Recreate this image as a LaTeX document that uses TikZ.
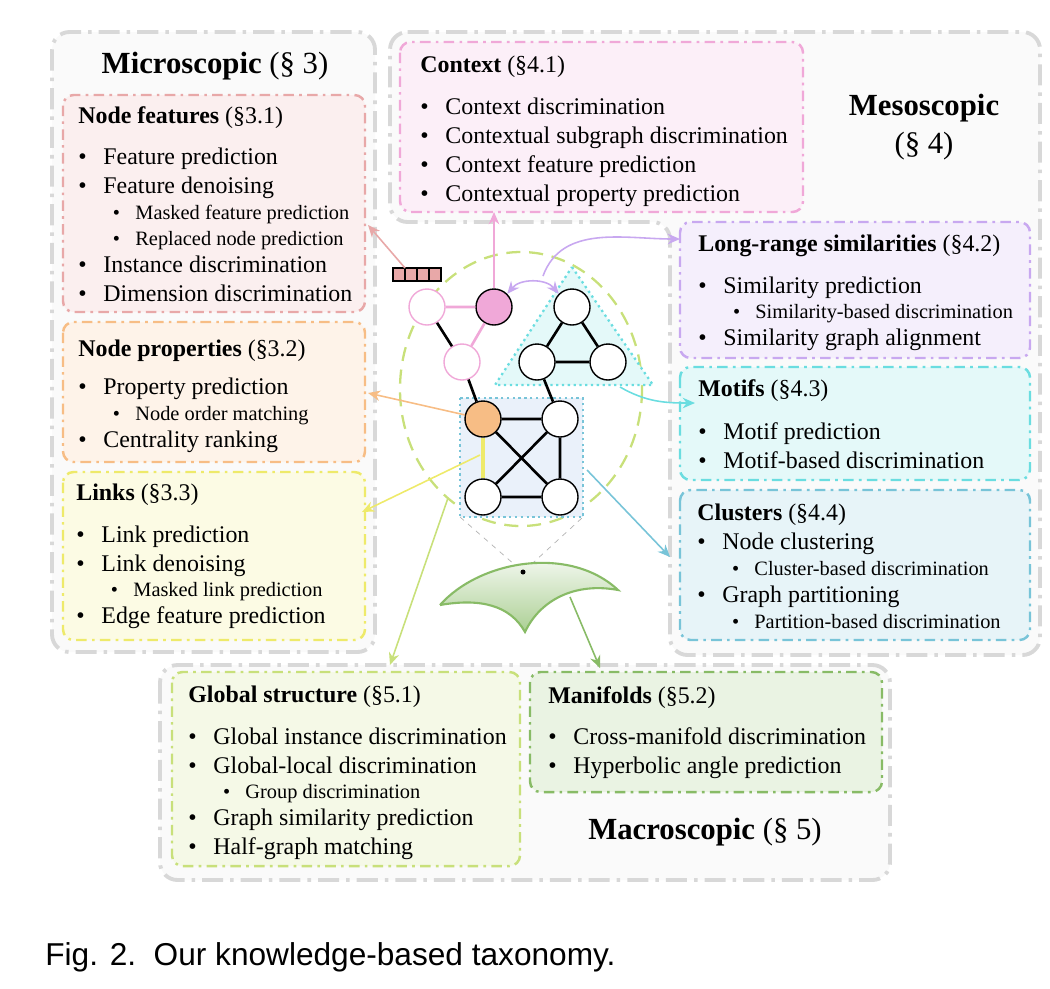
\documentclass[tikz,border=0pt]{standalone}
\usepackage{fontspec}
\setmainfont{Liberation Serif}
\newfontfamily\capfont{Liberation Sans}
\usetikzlibrary{arrows.meta,positioning}
\definecolor{outerc}{HTML}{D8D8D8}
\definecolor{nfc}{HTML}{E8A8A8}
\definecolor{npc}{HTML}{F7BD85}
\definecolor{lkc}{HTML}{EEEA6A}
\definecolor{ctc}{HTML}{F0A8D8}
\definecolor{lrc}{HTML}{C8A8F0}
\definecolor{mfc}{HTML}{6ADDE0}
\definecolor{clc}{HTML}{78C4D8}
\definecolor{glc}{HTML}{C8E07A}
\definecolor{mnc}{HTML}{88BB66}
\definecolor{sqfill}{HTML}{EAF1FA}
\newcommand\ib[1]{\makebox[1.05em][l]{\textbullet}#1}
\newcommand\sib[1]{\hspace*{1.45em}{\fontsize{11.6}{14}\selectfont\makebox[1.1em][l]{\textbullet}#1}}
\tikzset{
  outer/.style={draw=outerc, fill=black!2, line width=2.2pt, rounded corners=10pt,
    dash pattern=on 12pt off 4pt on 2pt off 4pt},
  box/.style={draw=#1, fill=#1!18, line width=1.4pt, rounded corners=6pt,
    dash pattern=on 6pt off 3pt on 1.5pt off 3pt},
  txt/.style={anchor=north west, inner sep=0pt, align=left,
    font=\fontsize{13.6}{16.5}\selectfont},
  gnode/.style={circle, draw, thick, fill=white, minimum size=36*0.02cm, inner sep=0pt},
  conn/.style={-{Stealth[length=7pt,width=6pt]}, line width=0.9pt},
}
\begin{document}
\begin{tikzpicture}[x=0.02cm, y=-0.02cm]
\useasboundingbox (0,0) rectangle (1050,988);
% outer regions
\draw[outer] (52,32) rectangle (375,652);
\draw[outer] (390,32) -- (1040,32) -- (1040,655) -- (670,655) -- (670,222) -- (390,222) -- cycle;
\draw[outer] (160,665) rectangle (890,880);
\node[font=\fontsize{17.5}{20}\selectfont] (micro) at (215,66) {\textbf{Microscopic} (§ 3)};
\node[font=\fontsize{17.5}{22}\selectfont, align=center] (meso) at (924,127) {\textbf{Mesoscopic}\\(§ 4)};
\node[font=\fontsize{17.5}{20}\selectfont] (macro) at (705,832) {\textbf{Macroscopic} (§ 5)};
% boxes
\draw[box=nfc] (63,95) rectangle (365,312);
\draw[box=npc] (63,322) rectangle (365,462);
\draw[box=lkc] (63,472) rectangle (365,640);
\draw[box=ctc] (400,42) rectangle (803,212);
\draw[box=lrc] (680,222) rectangle (1030,358);
\draw[box=mfc] (680,367) rectangle (1030,480);
\draw[box=clc] (680,490) rectangle (1030,640);
\draw[box=glc] (172,672) rectangle (520,866);
\draw[box=mnc] (530,672) rectangle (882,792);
% box texts
\node[txt] (nft) at (78,106) {\textbf{Node features} (§3.1)\\[7pt]
  \ib{Feature prediction}\\ \ib{Feature denoising}\\[-1.5pt] \sib{Masked feature prediction}\\[-2pt]
  \sib{Replaced node prediction}\\[-1pt] \ib{Instance discrimination}\\ \ib{Dimension discrimination}};
\node[txt] (npt) at (78,340) {\textbf{Node properties} (§3.2)\\[5pt]
  \ib{Property prediction}\\[-2pt] \sib{Node order matching}\\[-1pt] \ib{Centrality ranking}};
\node[txt] (lkt) at (76,484) {\textbf{Links} (§3.3)\\[7pt]
  \ib{Link prediction}\\ \ib{Link denoising}\\[-2pt] \sib{Masked link prediction}\\[-1pt] \ib{Edge feature prediction}};
\node[txt] (ctt) at (420,56) {\textbf{Context} (§4.1)\\[7pt]
  \ib{Context discrimination}\\ \ib{Contextual subgraph discrimination}\\
  \ib{Context feature prediction}\\ \ib{Contextual property prediction}};
\node[txt] (lrt) at (698,235) {\textbf{Long-range similarities} (§4.2)\\[7pt]
  \ib{Similarity prediction}\\[-2pt] \sib{Similarity-based discrimination}\\[-1pt] \ib{Similarity graph alignment}};
\node[txt] (mft) at (698,379) {\textbf{Motifs} (§4.3)\\[8pt]
  \ib{Motif prediction}\\ \ib{Motif-based discrimination}};
\node[txt] (clt) at (697,504) {\textbf{Clusters} (§4.4)\\[0pt]
  \ib{Node clustering}\\[-2pt] \sib{Cluster-based discrimination}\\[-1pt] \ib{Graph partitioning}\\[-2pt] \sib{Partition-based discrimination}};
\node[txt] (glt) at (188,686) {\textbf{Global structure} (§5.1)\\[7pt]
  \ib{Global instance discrimination}\\ \ib{Global-local discrimination}\\[-2pt] \sib{Group discrimination}\\[-1pt]
  \ib{Graph similarity prediction}\\ \ib{Half-graph matching}};
\node[txt] (mnt) at (548,686) {\textbf{Manifolds} (§5.2)\\[7pt]
  \ib{Cross-manifold discrimination}\\ \ib{Hyperbolic angle prediction}};
% central graph
\draw[glc, line width=1.3pt, dash pattern=on 8pt off 5pt] (521,389) ellipse [x radius=121, y radius=137];
\fill[mfc!18] (572,267) -- (653,385) -- (495,385) -- cycle;
\draw[mfc, line width=1.3pt, dotted] (572,267) -- (653,385) -- (495,385) -- cycle;
\draw[clc, fill=sqfill, line width=1.3pt, dotted] (460,398) rectangle (583,517);
\foreach \i in {0,1,2,3}
  \draw[fill=nfc, thick] (393+12*\i,268) rectangle ++(12,13);
\coordinate (bar) at (405,268);
\node[gnode, draw=ctc] (p1) at (427,307) {};
\node[gnode, fill=ctc] (p2) at (494,307) {};
\node[gnode, draw=ctc] (p3) at (462,362) {};
\node[gnode] (t1) at (572,307) {};
\node[gnode] (t2) at (537,362) {};
\node[gnode] (t3) at (608,362) {};
\node[gnode, fill=npc] (s1) at (483,419) {};
\node[gnode] (s2) at (560,419) {};
\node[gnode] (s3) at (483,497) {};
\node[gnode] (s4) at (560,497) {};
\draw[ctc, line width=1.5pt] (p1) -- (p2) -- (p3);
\draw[line width=1.5pt] (p1) -- (p3) -- (s1) (t1) -- (t2) -- (t3) -- (t1) (t2) -- (s2)
  (s1) -- (s2) -- (s4) -- (s3) (s1) -- (s4) (s2) -- (s3);
\draw[lkc, line width=2.5pt] (s1) -- (s3);
% manifold
\coordinate (mdot) at (523,572);
\draw[gray!60, thin, dashed] (460,517) -- (mdot) -- (583,517);
\shade[top color=white, bottom color=mnc!70, draw=mnc, line width=1.2pt]
  (440,605) .. controls (480,560) and (570,545) .. (618,590)
  .. controls (575,582) and (540,600) .. (525,632)
  .. controls (510,605) and (480,598) .. (440,605);
\fill (mdot) circle (2.5);
% connectors
\draw[conn, nfc] (bar) -- (368,225);
\draw[conn, ctc] (p2) -- (494,212);
\draw[conn, lrc, {Stealth[length=7pt,width=6pt]}-{Stealth[length=7pt,width=6pt]}] (p2.north east) to[bend left=50] (t1.north west);
\draw[conn, lrc] (543,276) to[out=70, in=180] (680,239);
\draw[conn, npc] (s1) -- (368,393);
\draw[conn, lkc] (480,455) -- (362,512);
\draw[conn, mfc] (620,387) to[out=-30, in=180] (695,403);
\draw[conn, clc] (587,470) -- (670,557);
\draw[conn, glc] (448,498) -- (390,665);
\draw[conn, mnc] (570,597) -- (600,668);
% caption
\node[anchor=base west, inner sep=0pt, font=\capfont\fontsize{18}{21}\selectfont] (cap) at (45,965) {Fig. 2.\ \ Our knowledge-based taxonomy.};
\end{tikzpicture}
\end{document}
